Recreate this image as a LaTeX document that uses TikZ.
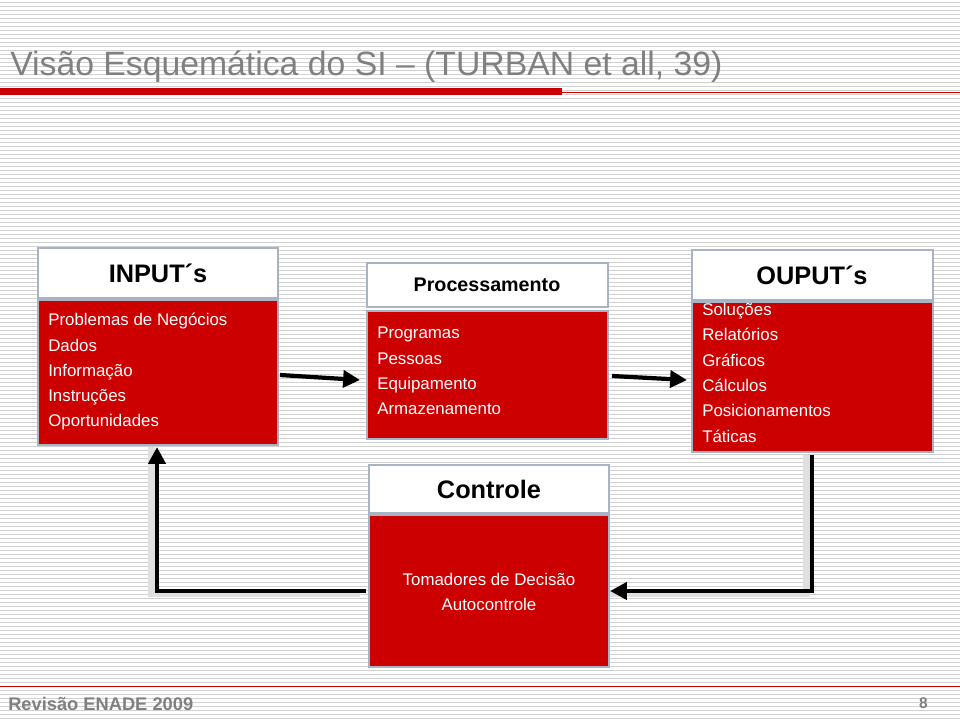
\documentclass[tikz,border=0pt]{standalone}
\usepackage{fontspec}
\setmainfont{Liberation Sans}
\usetikzlibrary{positioning,arrows.meta,calc}
\definecolor{boxred}{HTML}{CC0000}
\definecolor{rim}{HTML}{A8B4C4}
\definecolor{titlegray}{HTML}{808080}
\begin{document}
\begin{tikzpicture}[x=0.025cm,y=-0.025cm,
    head/.style={draw=rim, line width=1.5pt, fill=white, inner sep=0pt, font=\bfseries},
    body/.style={draw=rim, line width=1.5pt, fill=boxred, inner sep=0pt},
    items/.style={text=white, font=\fontsize{12}{18}\selectfont, align=left, anchor=north west, inner sep=0pt},
    flow/.style={-{Triangle[length=12pt,width=12pt]}, line width=3pt, black}
]
    % fundo listrado
    \useasboundingbox (0,0) rectangle (960,720);
    \foreach \y in {2,6,...,718}
        \draw[black!18, line width=0.4pt] (0,\y) -- (960,\y);

    % titulo
    \node[anchor=base west, text=titlegray, font=\fontsize{24}{28}\selectfont, inner sep=0pt] (title) at (10,76) {Visão Esquemática do SI – (TURBAN et all, 39)};
    \fill[boxred] (0,88) rectangle (562,95);
    \draw[boxred, line width=0.6pt] (562,92) -- (960,92);

    % rodape
    \draw[boxred, line width=0.6pt] (0,686) -- (960,686);
    \node[anchor=base west, text=titlegray, font=\bfseries\fontsize{13}{15}\selectfont, inner sep=0pt] (foot) at (8,710) {Revisão ENADE 2009};
    \node[anchor=base east, text=titlegray, font=\rmfamily\bfseries\fontsize{11}{13}\selectfont, inner sep=0pt] (page) at (928,708) {8};

    % INPUT
    \draw[head] (38,248) rectangle (278,298);
    \node[font=\bfseries\fontsize{18}{20}\selectfont] (inh) at (158,273) {INPUT´s};
    \draw[body] (38,300) rectangle (278,445);
    \node[items] (in) at (48,313) {Problemas de Negócios\\Dados\\Informação\\Instruções\\Oportunidades};
    \coordinate (inE) at (280,375);
    \coordinate (inS) at (157,447);

    % Processamento
    \draw[head] (367,263) rectangle (608,307);
    \node[font=\bfseries\fontsize{14}{16}\selectfont] (proh) at (487,285) {Processamento};
    \draw[body] (367,311) rectangle (608,439);
    \node[items] (pro) at (377,327) {Programas\\Pessoas\\Equipamento\\Armazenamento};
    \coordinate (proW) at (360,380);
    \coordinate (proE) at (612,376);

    % OUPUT
    \draw[head] (692,250) rectangle (933,300);
    \node[font=\bfseries\fontsize{18}{20}\selectfont] (outh) at (812,275) {OUPUT´s};
    \draw[body] (692,302) rectangle (933,452);
    \node[items] (out) at (702,303) {Soluções\\Relatórios\\Gráficos\\Cálculos\\Posicionamentos\\Táticas};
    \coordinate (outW) at (687,380);
    \coordinate (outS) at (812,455);

    % Controle
    \draw[head] (369,465) rectangle (609,513);
    \node[font=\bfseries\fontsize{18}{20}\selectfont] (ctlh) at (489,489) {Controle};
    \draw[body] (369,515) rectangle (609,667);
    \node[items, align=center, anchor=center] (ctl) at (489,592) {Tomadores de Decisão\\Autocontrole};
    \coordinate (ctlW) at (366,591);
    \coordinate (ctlE) at (610,591);

    % conexoes
    \draw[flow] (inE) -- (proW);
    \draw[flow] (proE) -- (outW);
    \draw[white!75!gray, line width=5pt] ([xshift=-4pt,yshift=-2pt]ctlW) -| ([xshift=-4pt]inS);
    \draw[flow] (ctlW) -| (inS);
    \draw[white!75!gray, line width=5pt] ([xshift=-4pt]outS) |- ([yshift=-2pt]ctlE);
    \draw[flow] (outS) |- (ctlE);
\end{tikzpicture}
\end{document}
